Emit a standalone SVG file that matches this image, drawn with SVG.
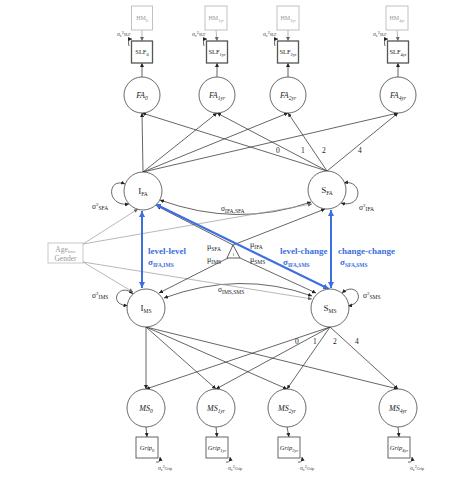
<svg xmlns="http://www.w3.org/2000/svg" width="474" height="481" viewBox="0 0 474 481">
<defs>
<marker id="a" viewBox="0 0 6 6" refX="6" refY="3" markerUnits="userSpaceOnUse" markerWidth="4" markerHeight="4" orient="auto-start-reverse"><path d="M0,0 L6,3 L0,6 z" fill="#222"/></marker>
<marker id="g" viewBox="0 0 6 6" refX="6" refY="3" markerUnits="userSpaceOnUse" markerWidth="4" markerHeight="4" orient="auto-start-reverse"><path d="M0,0 L6,3 L0,6 z" fill="#666"/></marker>
<marker id="b" viewBox="0 0 6 6" refX="6" refY="3" markerUnits="userSpaceOnUse" markerWidth="6" markerHeight="6" orient="auto-start-reverse"><path d="M0,0 L6,3 L0,6 z" fill="#3d6fe0"/></marker>
<style>
text{font-family:"Liberation Serif","Times New Roman",serif;fill:#222}
.c{fill:#fff;stroke:#444;stroke-width:0.8}
.box{fill:#fff;stroke:#555;stroke-width:1.3}
.gbox{fill:#fff;stroke:#555;stroke-width:0.9}
.hm{fill:#fff;stroke:#bbb;stroke-width:0.9}
.ln{fill:none;stroke:#333;stroke-width:0.75;marker-end:url(#a)}
.dbl{fill:none;stroke:#333;stroke-width:0.75;marker-start:url(#a);marker-end:url(#a)}
.gl{fill:none;stroke:#999;stroke-width:0.7;marker-end:url(#g)}
.bl{fill:none;stroke:#3d6fe0;stroke-width:2;marker-start:url(#b);marker-end:url(#b)}
.it{font-style:italic;font-size:8px}
.lat{font-size:9px}
.sm{font-size:7.5px}
.tiny{font-size:5.5px;fill:#333}
.grey{fill:#999}
.blue{fill:#3d6fe0;font-weight:bold;font-size:9px}
.mu{font-size:8px}
</style>
</defs>

<g id="connectors">
<!-- HM -> SLF -->
<line class="gl" x1="142" y1="30" x2="142" y2="41"/>
<line class="gl" x1="216" y1="30" x2="217" y2="41"/>
<line class="gl" x1="288" y1="30" x2="288" y2="41"/>
<line class="gl" x1="397" y1="30" x2="398" y2="41"/>
<!-- FA -> SLF -->
<line class="ln" x1="142" y1="77" x2="142" y2="63"/>
<line class="ln" x1="217" y1="77" x2="217" y2="63"/>
<line class="ln" x1="288" y1="77" x2="288" y2="63"/>
<line class="ln" x1="398" y1="77" x2="398" y2="63"/>
<!-- SLF errors -->
<path class="ln" d="M129,46 Q127,39 132,39"/>
<path class="ln" d="M204,46 Q202,39 207,39"/>
<path class="ln" d="M275,46 Q273,39 278,39"/>
<path class="ln" d="M385,46 Q383,39 388,39"/>
<!-- I_FA -> FA -->
<line class="ln" x1="143" y1="172" x2="142" y2="113"/>
<line class="ln" x1="143" y1="172" x2="217" y2="113"/>
<line class="ln" x1="143" y1="172" x2="288" y2="113"/>
<line class="ln" x1="143" y1="172" x2="398" y2="113"/>
<!-- S_FA -> FA -->
<line class="ln" x1="327" y1="171" x2="142" y2="113"/>
<line class="ln" x1="327" y1="171" x2="217" y2="113"/>
<line class="ln" x1="327" y1="171" x2="288" y2="113"/>
<line class="ln" x1="327" y1="171" x2="398" y2="113"/>
<!-- variance loops -->
<path class="dbl" d="M125,184 C107,177 106,207 129,204"/>
<path class="dbl" d="M344,183 C363,179 363,209 341,203"/>
<path class="dbl" d="M133,294 C119,281 107,305 127.5,305.5"/>
<path class="dbl" d="M342,293 C357,280 367,303 348,306"/>
<!-- covariances -->
<path class="dbl" d="M160,200 Q237,228 311,202"/>
<path class="dbl" d="M164,298 Q240,270 312,296"/>
<!-- Age lines -->
<line class="gl" x1="83" y1="244" x2="138" y2="209"/>
<line class="gl" x1="83" y1="244" x2="312" y2="204"/>
<line class="gl" x1="83" y1="262" x2="133" y2="292"/>
<line class="gl" x1="83" y1="262" x2="312" y2="299"/>
<!-- triangle means -->
<line class="ln" x1="233" y1="245" x2="157" y2="206"/>
<line class="ln" x1="233" y1="245" x2="325" y2="209"/>
<line class="ln" x1="228" y1="258" x2="159" y2="293"/>
<line class="ln" x1="240" y1="258" x2="316" y2="293"/>
<!-- I_MS -> MS -->
<line class="ln" x1="146" y1="327" x2="146" y2="389"/>
<line class="ln" x1="146" y1="327" x2="216" y2="389"/>
<line class="ln" x1="146" y1="327" x2="287" y2="389"/>
<line class="ln" x1="146" y1="327" x2="398" y2="389"/>
<!-- S_MS -> MS -->
<line class="ln" x1="330" y1="327" x2="146" y2="389"/>
<line class="ln" x1="330" y1="327" x2="216" y2="389"/>
<line class="ln" x1="330" y1="327" x2="287" y2="389"/>
<line class="ln" x1="330" y1="327" x2="398" y2="389"/>
<!-- MS -> Grip -->
<line class="ln" x1="146" y1="427" x2="147" y2="437"/>
<line class="ln" x1="216" y1="427" x2="217" y2="437"/>
<line class="ln" x1="287" y1="427" x2="289" y2="437"/>
<line class="ln" x1="398" y1="427" x2="399" y2="437"/>
<!-- Grip errors -->
<path class="ln" d="M156,462 Q161,463 160,457"/>
<path class="ln" d="M226,462 Q231,463 230,457"/>
<path class="ln" d="M298,462 Q303,463 302,457"/>
<path class="ln" d="M408,462 Q413,463 412,457"/>
<!-- blue covariances -->
<line class="bl" x1="142" y1="211" x2="142" y2="288"/>
<line class="bl" x1="155" y1="204" x2="329" y2="289"/>
<line class="bl" x1="331" y1="210" x2="331" y2="288"/>
</g>

<!-- labels on connectors -->
<g id="labels">
<text class="sm" x="276" y="153">0</text>
<text class="sm" x="301" y="153">1</text>
<text class="sm" x="322" y="153">2</text>
<text class="sm" x="358" y="153">4</text>
<text class="sm" x="295" y="344">0</text>
<text class="sm" x="313" y="344">1</text>
<text class="sm" x="333" y="344">2</text>
<text class="sm" x="355" y="344">4</text>
<text class="sm" x="92" y="209">σ<tspan font-size="5" dy="-3">2</tspan><tspan font-size="5.5" dy="4">SFA</tspan></text>
<text class="sm" x="359" y="210">σ<tspan font-size="5" dy="-3">2</tspan><tspan font-size="5.5" dy="4">IFA</tspan></text>
<text class="sm" x="92" y="298">σ<tspan font-size="5" dy="-3">2</tspan><tspan font-size="5.5" dy="4">IMS</tspan></text>
<text class="sm" x="363" y="298">σ<tspan font-size="5" dy="-3">2</tspan><tspan font-size="5.5" dy="4">SMS</tspan></text>
<text class="sm" x="221" y="211">σ<tspan font-size="5.5" dy="2">IFA,SFA</tspan></text>
<text class="sm" x="218" y="292">σ<tspan font-size="5.5" dy="2">IMS,SMS</tspan></text>
<text class="mu" x="207" y="249">μ<tspan font-size="5.5" dy="1.5">SFA</tspan></text>
<text class="mu" x="250" y="247">μ<tspan font-size="5.5" dy="1.5">IFA</tspan></text>
<text class="mu" x="207" y="262">μ<tspan font-size="5.5" dy="1.5">IMS</tspan></text>
<text class="mu" x="250" y="262">μ<tspan font-size="5.5" dy="1.5">SMS</tspan></text>
<text class="blue" x="148" y="254">level-level</text>
<text class="blue" x="148" y="265">σ<tspan font-size="5.5" dy="1.5">IFA,IMS</tspan></text>
<text class="blue" x="280" y="254">level-change</text>
<text class="blue" x="283" y="265">σ<tspan font-size="5.5" dy="1.5">IFA,SMS</tspan></text>
<text class="blue" x="338" y="254">change-change</text>
<text class="blue" x="340" y="265">σ<tspan font-size="5.5" dy="1.5">SFA,SMS</tspan></text>
<text class="tiny" x="117" y="36">σ<tspan font-size="4" dy="1">ε</tspan><tspan font-size="4" dy="-3">2</tspan><tspan font-size="4" dy="2">SLF</tspan></text>
<text class="tiny" x="192" y="36">σ<tspan font-size="4" dy="1">ε</tspan><tspan font-size="4" dy="-3">2</tspan><tspan font-size="4" dy="2">SLF</tspan></text>
<text class="tiny" x="263" y="36">σ<tspan font-size="4" dy="1">ε</tspan><tspan font-size="4" dy="-3">2</tspan><tspan font-size="4" dy="2">SLF</tspan></text>
<text class="tiny" x="373" y="36">σ<tspan font-size="4" dy="1">ε</tspan><tspan font-size="4" dy="-3">2</tspan><tspan font-size="4" dy="2">SLF</tspan></text>
<text class="tiny" x="158" y="470">σ<tspan font-size="4" dy="1">ε</tspan><tspan font-size="4" dy="-3">2</tspan><tspan font-size="4" dy="2">Grip</tspan></text>
<text class="tiny" x="228" y="470">σ<tspan font-size="4" dy="1">ε</tspan><tspan font-size="4" dy="-3">2</tspan><tspan font-size="4" dy="2">Grip</tspan></text>
<text class="tiny" x="300" y="470">σ<tspan font-size="4" dy="1">ε</tspan><tspan font-size="4" dy="-3">2</tspan><tspan font-size="4" dy="2">Grip</tspan></text>
<text class="tiny" x="410" y="470">σ<tspan font-size="4" dy="1">ε</tspan><tspan font-size="4" dy="-3">2</tspan><tspan font-size="4" dy="2">Grip</tspan></text>
</g>

<g id="HM0"><rect class="hm" x="131.5" y="6" width="21" height="24"/><text class="grey" font-size="6" x="142" y="20" text-anchor="middle">HM<tspan font-size="4" dy="1.5">0</tspan></text></g>
<g id="HM1yr"><rect class="hm" x="205" y="6" width="22" height="24"/><text class="grey" font-size="6" x="216" y="20" text-anchor="middle">HM<tspan font-size="4" dy="1.5">1yr</tspan></text></g>
<g id="HM2yr"><rect class="hm" x="277" y="6" width="22" height="24"/><text class="grey" font-size="6" x="288" y="20" text-anchor="middle">HM<tspan font-size="4" dy="1.5">2yr</tspan></text></g>
<g id="HM4yr"><rect class="hm" x="386" y="6" width="22" height="24"/><text class="grey" font-size="6" x="397" y="20" text-anchor="middle">HM<tspan font-size="4" dy="1.5">4yr</tspan></text></g>

<g id="SLF0"><rect class="box" x="131.5" y="41" width="21" height="22"/><text font-size="6.5" x="142" y="54" text-anchor="middle">SLF<tspan font-size="4.5" dy="1.5">0</tspan></text></g>
<g id="SLF1yr"><rect class="box" x="206.5" y="41" width="21" height="22"/><text font-size="6.5" x="217" y="54" text-anchor="middle">SLF<tspan font-size="4.5" dy="1.5">1yr</tspan></text></g>
<g id="SLF2yr"><rect class="box" x="277.5" y="41" width="21" height="22"/><text font-size="6.5" x="288" y="54" text-anchor="middle">SLF<tspan font-size="4.5" dy="1.5">2yr</tspan></text></g>
<g id="SLF4yr"><rect class="box" x="387.5" y="41" width="21" height="22"/><text font-size="6.5" x="398" y="54" text-anchor="middle">SLF<tspan font-size="4.5" dy="1.5">4yr</tspan></text></g>

<g id="FA0"><circle class="c" cx="142" cy="95" r="18"/><text class="it" x="142" y="98" text-anchor="middle">FA<tspan font-size="5.5" dy="1.5">0</tspan></text></g>
<g id="FA1yr"><circle class="c" cx="217" cy="95" r="18"/><text class="it" x="217" y="98" text-anchor="middle">FA<tspan font-size="5.5" dy="1.5">1yr</tspan></text></g>
<g id="FA2yr"><circle class="c" cx="288" cy="95" r="18"/><text class="it" x="288" y="98" text-anchor="middle">FA<tspan font-size="5.5" dy="1.5">2yr</tspan></text></g>
<g id="FA4yr"><circle class="c" cx="398" cy="95" r="18"/><text class="it" x="398" y="98" text-anchor="middle">FA<tspan font-size="5.5" dy="1.5">4yr</tspan></text></g>

<g id="IFA"><circle class="c" cx="143" cy="191" r="19"/><text class="lat" x="143" y="194" text-anchor="middle">I<tspan font-size="5.5" dy="1.5">FA</tspan></text></g>
<g id="SFA"><circle class="c" cx="327" cy="190" r="19"/><text class="lat" x="327" y="193" text-anchor="middle">S<tspan font-size="5.5" dy="1.5">FA</tspan></text></g>
<g id="IMS"><circle class="c" cx="146" cy="308" r="19"/><text class="lat" x="146" y="311" text-anchor="middle">I<tspan font-size="5.5" dy="1.5">MS</tspan></text></g>
<g id="SMS"><circle class="c" cx="330" cy="308" r="19"/><text class="lat" x="330" y="311" text-anchor="middle">S<tspan font-size="5.5" dy="1.5">MS</tspan></text></g>

<g id="AgeGender"><rect x="48" y="243" width="35" height="20" fill="#fff" stroke="#bbb" stroke-width="0.8"/><text class="grey" font-size="7.5" x="65.5" y="252" text-anchor="middle">Age<tspan font-size="4.5" dy="1">base</tspan></text><text class="grey" font-size="7.5" x="65.5" y="261" text-anchor="middle">Gender</text></g>

<g id="const"><polygon points="233,245 227,258 240,258" fill="#fff" stroke="#333" stroke-width="0.8"/><text font-size="4" x="233.5" y="256" text-anchor="middle">1</text></g>

<g id="MS0"><circle class="c" cx="146" cy="408" r="19"/><text class="it" x="146" y="411" text-anchor="middle">MS<tspan font-size="5.5" dy="1.5">0</tspan></text></g>
<g id="MS1yr"><circle class="c" cx="216" cy="408" r="19"/><text class="it" x="216" y="411" text-anchor="middle">MS<tspan font-size="5.5" dy="1.5">1yr</tspan></text></g>
<g id="MS2yr"><circle class="c" cx="287" cy="408" r="19"/><text class="it" x="287" y="411" text-anchor="middle">MS<tspan font-size="5.5" dy="1.5">2yr</tspan></text></g>
<g id="MS4yr"><circle class="c" cx="398" cy="408" r="19"/><text class="it" x="398" y="411" text-anchor="middle">MS<tspan font-size="5.5" dy="1.5">4yr</tspan></text></g>

<g id="Grip0"><rect class="gbox" x="136" y="437" width="22" height="21"/><text font-style="italic" font-size="6.5" x="147" y="450" text-anchor="middle">Grip<tspan font-size="4.5" dy="1.5">0</tspan></text></g>
<g id="Grip1yr"><rect class="gbox" x="206" y="437" width="22" height="21"/><text font-style="italic" font-size="6.5" x="217" y="450" text-anchor="middle">Grip<tspan font-size="4.5" dy="1.5">1yr</tspan></text></g>
<g id="Grip2yr"><rect class="gbox" x="278" y="437" width="22" height="21"/><text font-style="italic" font-size="6.5" x="289" y="450" text-anchor="middle">Grip<tspan font-size="4.5" dy="1.5">2yr</tspan></text></g>
<g id="Grip4yr"><rect class="gbox" x="388" y="437" width="22" height="21"/><text font-style="italic" font-size="6.5" x="399" y="450" text-anchor="middle">Grip<tspan font-size="4.5" dy="1.5">4yr</tspan></text></g>
</svg>
